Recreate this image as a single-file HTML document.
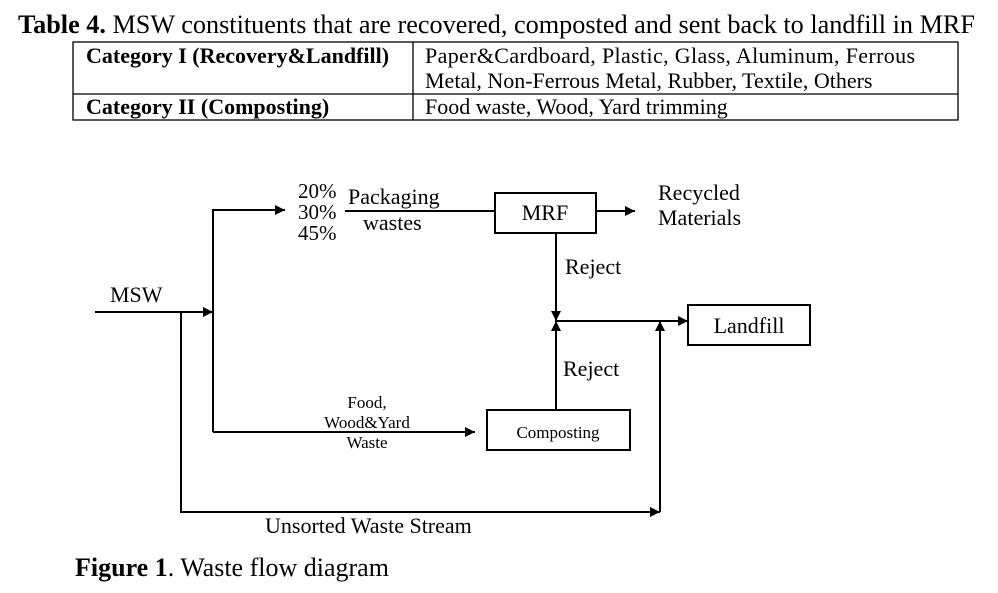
<!DOCTYPE html>
<html><head><style>
body{margin:0;width:998px;height:593px;background:#fff;overflow:hidden}
svg text{font-family:"Liberation Serif",serif}
</style></head><body>
<svg width="998" height="593" style="position:absolute;left:0;top:0">
<defs><marker id="a" markerWidth="10" markerHeight="10" refX="10" refY="5" orient="auto" markerUnits="userSpaceOnUse"><path d="M0,0L10,5L0,10z"/></marker></defs>
<text x="18" y="33" font-size="26" textLength="957" lengthAdjust="spacingAndGlyphs"><tspan font-weight="bold">Table 4.</tspan> MSW constituents that are recovered, composted and sent back to landfill in MRF</text>
<g stroke="#000" stroke-width="1.3" fill="none">
<rect x="73" y="42" width="885" height="78"/>
<line x1="73" y1="94" x2="958" y2="94"/>
<line x1="413" y1="42" x2="413" y2="120"/>
</g>
<g font-size="22">
<text x="86" y="63" font-weight="bold">Category I (Recovery&amp;Landfill)</text>
<text x="86" y="114" font-weight="bold">Category II (Composting)</text>
<text x="425" y="63" textLength="490" lengthAdjust="spacing">Paper&amp;Cardboard, Plastic, Glass, Aluminum, Ferrous</text>
<text x="425" y="88">Metal, Non-Ferrous Metal, Rubber, Textile, Others</text>
<text x="425" y="114">Food waste, Wood, Yard trimming</text>
</g>
<g stroke="#000" stroke-width="2" fill="none">
<line x1="95" y1="312" x2="213" y2="312" marker-end="url(#a)"/>
<polyline points="213,432 213,210 285,210" marker-end="url(#a)"/>
<line x1="345" y1="211" x2="495" y2="211"/>
<rect x="495" y="193" width="101" height="40"/>
<line x1="596" y1="211" x2="635" y2="211" marker-end="url(#a)"/>
<line x1="556" y1="233" x2="556" y2="321" marker-end="url(#a)"/>
<line x1="556" y1="410" x2="556" y2="321" marker-end="url(#a)"/>
<line x1="556" y1="321" x2="688" y2="321" marker-end="url(#a)"/>
<rect x="688" y="305" width="122" height="40"/>
<line x1="660" y1="512" x2="660" y2="321" marker-end="url(#a)"/>
<line x1="213" y1="432" x2="475" y2="432" marker-end="url(#a)"/>
<rect x="487" y="410" width="143" height="40"/>
<polyline points="181,312 181,512 660,512" marker-end="url(#a)"/>
</g>
<g font-size="22">
<text x="110" y="302">MSW</text>
<text x="298" y="198" font-size="21">20%</text><text x="298" y="219" font-size="21">30%</text><text x="298" y="240" font-size="21">45%</text>
<text x="348" y="204">Packaging</text><text x="363" y="230">wastes</text>
<text x="545" y="220" text-anchor="middle">MRF</text>
<text x="658" y="200">Recycled</text><text x="658" y="225">Materials</text>
<text x="565" y="274">Reject</text>
<text x="563" y="376">Reject</text>
<text x="749" y="333" text-anchor="middle">Landfill</text>
<text x="265" y="533">Unsorted Waste Stream</text>
</g>
<g font-size="17" text-anchor="middle">
<text x="367" y="408">Food,</text><text x="367" y="428">Wood&amp;Yard</text><text x="367" y="448">Waste</text>
<text x="558" y="438">Composting</text>
</g>
<text x="75" y="576" font-size="26"><tspan font-weight="bold">Figure 1</tspan>. Waste flow diagram</text>
</svg>
</body></html>
